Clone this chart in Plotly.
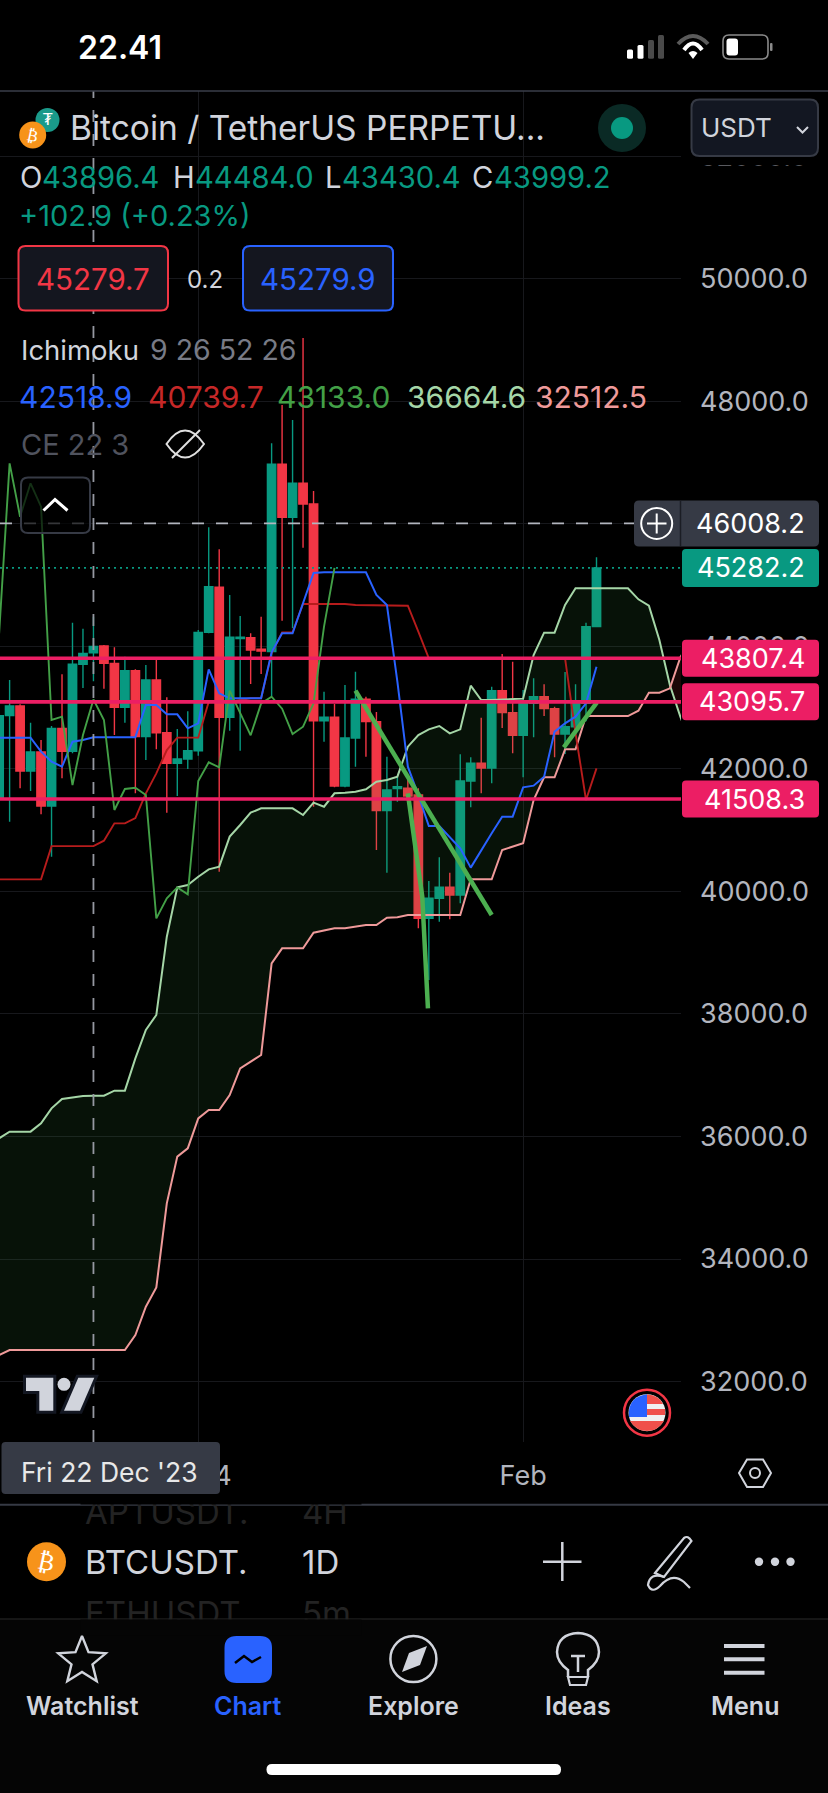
import math
import pandas as pd
import plotly.graph_objects as go

W, H = 828, 1793
# plot area in page pixels
PLOT_RIGHT, PLOT_TOP, PLOT_BOTTOM = 681, 91, 1442
Y_AT_50000, PX_PER_USD = 278.9, 0.061256

GREEN, RED, BLUE = "#089981", "#F23645", "#2962FF"
PINK = "#EC1E64"
TXT, MUTED = "#D1D4DC", "#B2B5BE"
FONT = "Inter"

# daily candles 13 Dec 2023 .. 8 Feb 2024
dates = pd.date_range("2023-12-13", "2024-02-08")
cloud_dates = pd.date_range("2023-12-13", "2024-02-17")

opens = [41509, 42870, 43028, 41966, 42277, 41395, 42663, 42288, 43708, 43896.4,
         44007, 43724, 43006, 43604, 42527, 43452, 42592, 42092, 42162,
         42298, 44230, 44965, 42843, 44127, 44143, 43953, 43915, 46973, 46108, 46663,
         46325, 42788, 42843, 41722, 42505, 43137, 42772, 41319, 41678, 41684, 41575,
         39561, 39888, 40068, 39942, 41803, 42092, 42016, 43278, 42919,
         42549, 43071, 43180, 42984, 42570, 42690, 43071, 44323]
highs = [43000, 43452, 43055, 42756, 42473, 42700, 43545, 44388, 44290, 44484.0,
         44023, 43985, 43833, 43626, 43697, 43806, 43169, 42652, 42941,
         44268, 45944, 45585, 44840, 44497, 44214, 44486, 47316, 47941, 47697, 49035,
         46537, 43262, 43060, 43370, 43588, 43180, 42930, 42200, 41874, 41874, 41684,
         40171, 40557, 40307, 42239, 42190, 42837, 43343, 43877, 43751,
         43289, 43479, 43381, 43017, 43583, 43381, 44388, 45455]
lows = [41400, 41139, 41684, 41640, 41259, 40568, 41847, 42255, 43321, 43430.4,
        43311, 42554, 42756, 41602, 42146, 42320, 41286, 41558, 41999,
        42217, 44214, 40323, 42625, 42298, 43387, 43550, 43191, 44421, 44296, 45612,
        41384, 42445, 41700, 41700, 42037, 42200, 40677, 40307, 41466, 41547, 39398,
        38555, 39507, 39545, 39806, 41373, 41602, 41765, 42669, 42255,
        41863, 42516, 42864, 42190, 42244, 42636, 42777, 44323]
closes = [42870, 43028, 41966, 42277, 41395, 42663, 42288, 43708, 43887, 43999.2,
          43724, 43006, 43604, 42527, 43452, 42592, 42092, 42162, 42298,
          44230, 44976, 42843, 44149, 44149, 43942, 43925, 46973, 46108, 46663, 46325,
          42788, 42843, 41722, 42505, 43137, 42772, 41319, 41656, 41711, 41558, 39561,
          39888, 40068, 39942, 41803, 42092, 42016, 43278, 42919, 42549,
          43071, 43180, 42984, 42570, 42690, 43071, 44323, 45282.2]

conversion = [42511, 42511, 42511, 42511, 42282, 42119, 42037, 42445, 42473, 42518.9,
              42518.9, 42518.9, 42518.9, 42518.9, 43044, 43044, 42892, 42892, 42663,
              42745, 43626, 43234, 43153, 43153, 43153, 43153, 43904, 44214, 44214, 44693,
              45199, 45210, 45210, 45210, 45210, 45210, 44840, 44677, 43425, 42037, 41575,
              41069, 41069, 40895, 40704, 40389, 40677, 40949, 41221, 41221,
              41700, 41727, 41874, 42609, 42745, 42854, 43071, 43670]
base_line = [40198, 40198, 40198, 40198, 40198, 40739.7, 40739.7, 40739.7, 40739.7, 40739.7,
             40829, 41112, 41112, 41199, 41602, 41928, 42309, 42511, 42511,
             42511, 43098, 43098, 43098, 43126, 43153, 43153, 43887, 44230, 44230, 44693,
             44693, 44693, 44693, 44693, 44677, 44677, 44677, 44677, 44677, 44665, 44241,
             43806, 43806, 43806, 43806, 43806, 43806, 43806, 43806, 43806,
             43806, 43806, 43806, 43806, 43806, 42581, 41493, 42010]
lagging = [44214, 46989, 46118, 46663, 46282, 42799, 42853, 41738, 42554, 43133.0,
           42799, 41330, 41673, 41694, 41575, 39561, 39888, 40067, 39953,
           41803, 42108, 42026, 43278, 42919, 42549, 43071, 43180, 42984, 42570, 42690,
           43071, 44323, 45282.2]
span_a = [35970, 36079, 36079, 36079, 36215, 36460, 36612, 36640, 36661, 36664.6,
          36664.6, 36748, 36748, 37276, 37739, 37984, 39262, 40067, 40105,
          40241, 40361, 40405, 40895, 41085, 41286, 41357, 41357, 41357, 41357, 41248,
          41450, 41384, 41602, 41612, 41629, 41667, 41792, 41819, 41874, 42364, 42554,
          42647, 42701, 42581, 42647, 43360, 43126, 43126, 43137, 43148,
          43148, 43860, 44225, 44225, 44677, 44949, 44949, 44949, 44949, 44949, 44949,
          44769, 44666, 44105, 43371, 42854, 42400]
span_b = [32433, 32512.5, 32512.5, 32512.5, 32512.5, 32512.5, 32512.5, 32512.5, 32512.5, 32512.5,
          32512.5, 32512.5, 32512.5, 32759, 33222, 33537, 34909, 35671, 35807,
          36296, 36432, 36432, 36677, 37113, 37221, 37330, 38827, 39072, 39072, 39072,
          39327, 39360, 39398, 39398, 39425, 39452, 39452, 39572, 39578, 39616, 39616,
          39616, 39616, 39616, 39616, 40198, 40198, 40198, 40677, 40731,
          40786, 41493, 41863, 41863, 42320, 42320, 42864, 42864, 42864, 42864, 42864,
          42951, 43245, 43245, 43316, 43822, 44100]

# hand drawn trend lines on the chart
trend_dates = [["2024-01-16", "2024-01-29"],
               ["2024-01-21", "2024-01-22 09:00", "2024-01-22 22:00"],
               ["2024-02-04 21:00", "2024-02-08 01:00"]]
trend_prices = [[43278, 39616], [41602, 39915, 38092], [42353, 43088]]

h_levels = [43807.4, 43095.7, 41508.3]
last_price = 45282.2
cross_price = 46008.2
cross_date = "2023-12-22"

price_ticks = [52000, 50000, 48000, 46000, 44000, 42000, 40000, 38000, 36000, 34000, 32000]
# 46000 sits exactly under the crosshair tag, only its grid line shows
price_labels = ["52000.0", "50000.0", "48000.0", "", "44000.0", "42000.0", "40000.0", "38000.0", "36000.0", "34000.0", "32000.0"]
time_ticks = ["2024-01-01", "2024-02-01"]
time_labels = ["2024", "Feb"]


def price_px(p):
    return Y_AT_50000 + (50000 - p) * PX_PER_USD


def svg(d):
    # path written in page pixels -> paper coords
    out, is_x = [], True
    for t in d.split():
        if t.isalpha():
            out.append(t)
        else:
            out.append(str(float(t) / W if is_x else 1 - float(t) / H))
            is_x = not is_x
    return " ".join(out)


shapes, notes = [], []


def draw(d, fill=None, line=None, lw=2):
    s = dict(type="path", xref="paper", yref="paper", path=svg(d), line=dict(width=lw if line else 0, color=line))
    if fill:
        s["fillcolor"] = fill
    shapes.append(s)


def rrect(x0, y0, x1, y1, r, fill=None, line=None, lw=2):
    draw(f"M {x0+r} {y0} L {x1-r} {y0} Q {x1} {y0} {x1} {y0+r} L {x1} {y1-r} Q {x1} {y1} {x1-r} {y1} "
         f"L {x0+r} {y1} Q {x0} {y1} {x0} {y1-r} L {x0} {y0+r} Q {x0} {y0} {x0+r} {y0} Z", fill, line, lw)


def circle(cx, cy, r, fill=None, line=None, lw=2):
    shapes.append(dict(type="circle", xref="paper", yref="paper", x0=(cx-r)/W, x1=(cx+r)/W,
                       y0=1-(cy+r)/H, y1=1-(cy-r)/H, fillcolor=fill or "rgba(0,0,0,0)",
                       line=dict(width=lw if line else 0, color=line)))


def txt(x, y, s, size, color, anchor="left", weight=None, family=FONT, angle=0):
    font = dict(family=family, size=size, color=color)
    if weight:
        font["weight"] = weight
    notes.append(dict(x=x/W, y=1-y/H, xref="paper", yref="paper", text=s, showarrow=False, xanchor=anchor,
                      yanchor="middle", font=font, borderpad=0, textangle=angle))


def cover(x0, y0, x1, y1, color):
    # opaque note, only way to clip text that sits in the annotation layer
    notes.append(dict(x=x0/W, y=1-y0/H, xref="paper", yref="paper", text=" ", showarrow=False, xanchor="left",
                      yanchor="top", width=x1-x0, height=y1-y0, bgcolor=color, borderpad=0))


fig = go.Figure()

# cloud first, fill goes red after the lines cross
split = 65
fig.add_trace(go.Scatter(x=cloud_dates[:split], y=span_b[:split], mode="lines", line=dict(width=0)))
fig.add_trace(go.Scatter(x=cloud_dates[:split], y=span_a[:split], mode="lines", line=dict(width=0),
                         fill="tonexty", fillcolor="rgba(67,160,71,0.11)"))
fig.add_trace(go.Scatter(x=cloud_dates[split-1:], y=span_a[split-1:], mode="lines", line=dict(width=0)))
fig.add_trace(go.Scatter(x=cloud_dates[split-1:], y=span_b[split-1:], mode="lines", line=dict(width=0),
                         fill="tonexty", fillcolor="rgba(244,67,54,0.11)"))
fig.add_trace(go.Scatter(x=cloud_dates, y=span_a, mode="lines", line=dict(color="#A5D6A7", width=2)))
fig.add_trace(go.Scatter(x=cloud_dates, y=span_b, mode="lines", line=dict(color="#EF9A9A", width=2)))
fig.add_trace(go.Scatter(x=dates, y=base_line, mode="lines", line=dict(color="#B71C1C", width=1.9)))
fig.add_trace(go.Scatter(x=dates, y=conversion, mode="lines", line=dict(color=BLUE, width=2)))
fig.add_trace(go.Scatter(x=dates[:len(lagging)], y=lagging, mode="lines", line=dict(color="#43A047", width=1.9)))

fig.add_trace(go.Candlestick(
    x=dates, open=opens, high=highs, low=lows, close=closes, whiskerwidth=0,
    increasing=dict(line=dict(color=GREEN, width=1.4), fillcolor=GREEN),
    decreasing=dict(line=dict(color=RED, width=1.4), fillcolor=RED),
    hoverinfo="skip",
))

for tx, ty in zip(trend_dates, trend_prices):
    fig.add_trace(go.Scatter(x=tx, y=ty, mode="lines", line=dict(color="#4CAF50", width=4.5)))

# horizontal levels, last price, crosshair
for lvl in h_levels:
    shapes.append(dict(type="line", xref="paper", yref="y", x0=0, x1=PLOT_RIGHT/W, y0=lvl, y1=lvl,
                       line=dict(color=PINK, width=3.6)))
shapes.append(dict(type="line", xref="paper", yref="y", x0=0, x1=PLOT_RIGHT/W, y0=last_price, y1=last_price,
                   line=dict(color=GREEN, width=1.6, dash="2px,4px")))
shapes.append(dict(type="line", xref="paper", yref="y", x0=0, x1=634/W, y0=cross_price, y1=cross_price,
                   line=dict(color="#B2B5BE", width=1.8, dash="12px,12px")))
shapes.append(dict(type="line", xref="x", yref="paper", x0=cross_date, x1=cross_date, y0=1-PLOT_BOTTOM/H, y1=1-PLOT_TOP/H,
                   line=dict(color="#9598A1", width=1.8, dash="12px,12px")))

# cut the 52000 label the way the header does
rrect(690, 92, 828, 165.5, 0, "#000000")

# price tags
for lvl in h_levels:
    yc = price_px(lvl)
    rrect(682, yc-18.5, 819, yc+18.5, 4, PINK)
    txt(806, yc, f"{lvl:.1f}", 27, "#FFFFFF", "right")
yc = price_px(last_price)
rrect(682, yc-19, 819, yc+19, 4, GREEN)
txt(806, yc, f"{last_price:.1f}", 27, "#FFFFFF", "right")
yc = price_px(cross_price)
rrect(634, yc-23, 819, yc+23, 5, "#363A45")
draw(f"M 680.5 {yc-23} L 680.5 {yc+23}", None, "#1B1D24", 1.5)
circle(656.7, yc, 15.5, None, "#FFFFFF", 2)
draw(f"M 647 {yc} L 666.5 {yc} M 656.7 {yc-10} L 656.7 {yc+10}", None, "#FFFFFF", 2)
txt(806, yc, f"{cross_price:.1f}", 27, "#FFFFFF", "right")

# status bar
txt(120, 47.5, "22.41", 32, "#FFFFFF", "center", 600)
for bx, top, c in [(627, 49.5, "#FFFFFF"), (637.5, 45, "#FFFFFF"), (648, 40, "#4A4A4A"), (658, 35, "#4A4A4A")]:
    rrect(bx, top, bx+6, 58.7, 1.5, c)
draw("M 678 44 Q 693 28 708 44", None, "#5A5A5A", 4)
draw("M 684 50 Q 693 37 702 50", None, "#FFFFFF", 4)
draw("M 688.5 53 Q 693 49 697.5 53 L 693 59 Z", "#FFFFFF")
rrect(723, 35, 768, 59, 6, None, "#8A8A8A", 1.6)
rrect(726.5, 38.5, 738, 55.5, 3, "#FFFFFF")
rrect(770, 43, 772.5, 51, 1, "#8A8A8A")
draw(f"M 0 91 L {W} 91", None, "#3A3E4A", 1.6)

# symbol header
circle(47.5, 120, 12, "#1A9A8A")
txt(47.5, 120, "₮", 15, "#FFFFFF", "center", family="DejaVu Sans")
circle(32.7, 135, 13.5, "#F7931A")
txt(32.7, 135, "₿", 16, "#FFFFFF", "center", family="DejaVu Sans", angle=12)
txt(68.5, 128, "Bitcoin / TetherUS PERPETU...", 33.5, TXT)
circle(622, 128, 24, "#0A2A25")
circle(622, 128, 11, GREEN)
rrect(691.5, 99.5, 818, 156, 8, "#131722", "#363A45", 2)
txt(700, 127.5, "USDT", 26, TXT)
draw("M 797 127 L 802.5 132.5 L 808 127", None, TXT, 2)

# OHLC rows
for x, s, c in [(19, "O", TXT), (41, "43896.4", GREEN), (172, "H", TXT), (194, "44484.0", GREEN),
                (324, "L", TXT), (341, "43430.4", GREEN), (471, "C", TXT), (493, "43999.2", GREEN)]:
    txt(x, 178, s, 29.2, c)
txt(18, 216, "+102.9 (+0.23%)", 29, GREEN)

# bid / ask
rrect(18.5, 246, 168, 310.5, 7, "#14161F", RED, 2)
txt(93, 279, "45279.7", 29.5, RED, "center")
txt(205, 279, "0.2", 24, TXT, "center")
rrect(243, 246, 393, 310.5, 7, "#14161F", BLUE, 2)
txt(318, 279, "45279.9", 29.5, BLUE, "center")

# indicator legend
txt(20, 350, "Ichimoku", 27.5, TXT)
txt(149, 350, "9 26 52 26", 28.5, "#787B86")
for x, s, c in [(18, "42518.9", BLUE), (147, "40739.7", "#C62828"), (276, "43133.0", "#43A047"),
                (405.5, "36664.6", "#A5D6A7"), (534, "32512.5", "#EF9A9A")]:
    txt(x, 396.5, s, 30, c)
txt(20, 444, "CE 22 3", 29, "#50535E")
draw("M 166.5 444 Q 185 417 204 444 Q 185 471 166.5 444 Z", None, "#E0E0E0", 2)
draw("M 172 458 L 200 430", None, "#E0E0E0", 2)
rrect(21, 477.5, 90, 533, 7, "rgba(0,0,0,0.7)", "#363A45", 2)
draw("M 43.5 510.5 L 55 499.5 L 67.5 510.5", None, "#FFFFFF", 3)

# tradingview logo, us flag
draw("M 26 1377.7 L 53.3 1377.7 L 53.3 1410.7 L 39.3 1410.7 L 39.3 1391 L 26 1391 Z", "#131722", "#131722", 6)
draw("M 78.3 1377.7 L 94.3 1377.7 L 80 1410.7 L 64 1410.7 Z", "#131722", "#131722", 6)
draw("M 26 1377.7 L 53.3 1377.7 L 53.3 1410.7 L 39.3 1410.7 L 39.3 1391 L 26 1391 Z", "#D1D4DC")
draw("M 78.3 1377.7 L 94.3 1377.7 L 80 1410.7 L 64 1410.7 Z", "#D1D4DC")
circle(64, 1384.3, 6.5, "#D1D4DC")

circle(647, 1412.7, 23, "#000000", RED, 2.5)
circle(647, 1412.7, 18.5, "#F0F0F0")
draw("M 647 1394.5 Q 659 1395 663 1404 L 647 1404 Z", "#F0504B")
draw("M 647 1409 L 665 1409 L 665 1415 L 647 1415 Z", "#F0504B")
draw("M 630 1421 L 664 1421 Q 658 1431 647 1431 Q 636 1431 630 1421 Z", "#F0504B")
draw("M 647 1394.3 L 647 1417 L 629 1417 Q 627 1397 647 1394.3 Z", "#2962FF")

# time axis tag and controls
rrect(1.5, 1442, 220, 1494, 4, "#363A45")
txt(20, 1472, "Fri 22 Dec '23", 26.5, "#E8E8E8")
draw("M 739 1473 L 747 1459.5 L 763 1459.5 L 771 1473 L 763 1487 L 747 1487 Z", None, TXT, 2)
circle(755, 1473, 5, None, TXT, 2)
draw(f"M 0 1504.7 L {W} 1504.7", None, "#363A45", 2)

# watchlist strip
for s, x2, y2 in [("APTUSDT.", "4H", 1512), ("ETHUSDT.", "5m", 1613)]:
    txt(84, y2, s, 33, "#232323")
    txt(301, y2, x2, 33, "#232323")
cover(80, 1494.5, 360, 1502.5, "#000000")
cover(80, 1619, 360, 1634, "#050505")
circle(46.5, 1561.7, 19.5, "#F7931A")
txt(46.5, 1561.7, "₿", 24, "#FFFFFF", "center", family="DejaVu Sans", angle=12)
txt(84, 1562, "BTCUSDT.", 33, TXT)
txt(301, 1562, "1D", 33, TXT)
draw("M 543 1561.7 L 581.5 1561.7 M 562.3 1542 L 562.3 1581", None, TXT, 2.5)
draw("M 655 1573 L 684 1538 Q 688 1535 691.5 1541 L 664 1577 Z", None, TXT, 2.2)
draw("M 664 1577 Q 650 1572 648 1585 Q 652 1594 660 1586 Q 672 1572 684 1582 L 690 1588", None, TXT, 2.2)
for cx in (759, 775, 790.5):
    circle(cx, 1561.7, 4.2, TXT)

# tab bar
shapes.append(dict(type="rect", xref="paper", yref="paper", x0=0, x1=1, y0=0, y1=1-1619/H,
                   fillcolor="#050505", line=dict(width=0)))
draw(f"M 0 1619 L {W} 1619", None, "#1C1C1C", 1.5)
star = []
for i in range(10):
    r = 25 if i % 2 == 0 else 11
    a = math.radians(-90 + 36*i)
    star.append(f"{'M' if i == 0 else 'L'} {82 + r*math.cos(a):.1f} {1661 + r*math.sin(a):.1f}")
draw(" ".join(star) + " Z", None, TXT, 2.4)
rrect(224.5, 1636, 272, 1683, 12, BLUE)
draw("M 235 1663 L 244 1656 L 252 1662 L 261 1657", None, "#000000", 2.5)
circle(413.4, 1659, 23, None, TXT, 2.5)
draw("M 427 1646 L 420 1665 L 402 1672 L 409 1653 Z", TXT)
draw("M 568 1677 L 568 1670 Q 557 1662 557 1652 Q 558 1634 578 1633 Q 598 1634 599 1652 Q 599 1662 588 1670 L 588 1677", None, TXT, 2.5)
draw("M 571 1656 L 585 1656 M 578 1656 L 578 1672", None, TXT, 2.5)
draw("M 568 1677 L 588 1677 L 586 1685 L 570 1685 Z", None, TXT, 2.2)
for by in (1646, 1659.3, 1672.7):
    draw(f"M 724 {by} L 764.5 {by}", None, TXT, 4)
for x, s, c in [(82, "Watchlist", TXT), (247, "Chart", BLUE), (413, "Explore", TXT), (578, "Ideas", TXT), (744.5, "Menu", TXT)]:
    txt(x, 1706, s, 25, c, "center", 600)
rrect(266.5, 1764, 561, 1775, 5.5, "#FFFFFF")

grid = "#17181C"
fig.update_layout(
    width=W, height=H, showlegend=False, hovermode=False,
    paper_bgcolor="#000000", plot_bgcolor="#000000",
    margin=dict(l=0, r=0, t=0, b=0, pad=0),
    boxgap=0.2, boxgroupgap=0,
    shapes=shapes, annotations=notes,
    xaxis=dict(type="date", domain=[0, PLOT_RIGHT/W], range=["2023-12-13 02:00", "2024-02-16 01:30"],
               rangeslider=dict(visible=False), showgrid=True, gridcolor=grid, gridwidth=1, zeroline=False,
               showline=False, tickmode="array", tickvals=time_ticks, ticktext=time_labels,
               ticklabelstandoff=15, tickfont=dict(family=FONT, size=27, color=MUTED)),
    yaxis=dict(side="right", domain=[1-PLOT_BOTTOM/H, 1-PLOT_TOP/H],
               range=[50000-(PLOT_BOTTOM-Y_AT_50000)/PX_PER_USD, 50000+(Y_AT_50000-PLOT_TOP)/PX_PER_USD],
               showgrid=True, gridcolor=grid, gridwidth=1, zeroline=False, showline=False,
               tickmode="array", tickvals=price_ticks, ticktext=price_labels, ticklabelstandoff=18,
               tickfont=dict(family=FONT, size=27, color=MUTED)),
)

fig.write_html("out.html", config={"displayModeBar": False},
               post_script="document.body.style.margin='0';document.body.style.background='#000';")
